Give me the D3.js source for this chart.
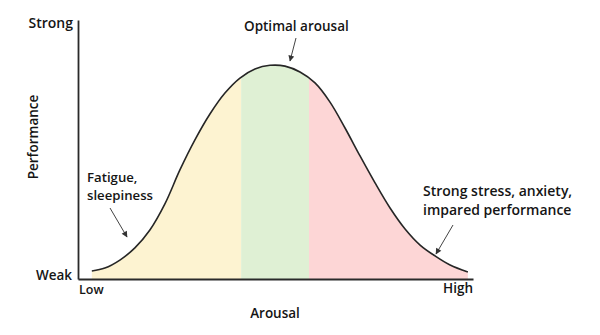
<!DOCTYPE html>
<html>
<head>
<meta charset="utf-8">
<script src="https://cdn.jsdelivr.net/npm/d3@7"></script>
<style>
  html, body { margin: 0; padding: 0; background: #fff; }
  svg text { font-family: "Open Sans", "Noto Sans", sans-serif; fill: #151515; font-weight: 600; }
</style>
</head>
<body>
<svg id="chart" width="600" height="335"></svg>
<script>
// Yerkes–Dodson curve: performance as a function of arousal
const arousal     = [3.5, 6.8, 10.6, 14.4, 18.2, 22.0, 25.8, 29.6, 33.4, 37.2, 41.0, 44.8, 48.6, 52.4, 56.2, 60.0, 63.8, 67.6, 71.4, 75.2, 79.0, 82.8, 86.6, 90.4, 94.2, 98.7];
const performance = [3.1, 4.2, 7.3, 12.0, 18.9, 29.0, 42.1, 53.7, 63.7, 71.8, 77.6, 81.1, 82.5, 82.2, 79.9, 75.7, 68.3, 58.3, 47.5, 37.1, 27.4, 19.3, 13.1, 8.9, 5.4, 2.7];

// Zone boundaries along the arousal axis
const zoneStarts = [0, 41.3, 58.5];
const zoneEnds   = [41.3, 58.5, 100];
const zoneColors = ["#fdf3d1", "#dff0d4", "#fdd6d6"];

const xTickLabels = ["Low", "High"];
const yTickLabels = ["Weak", "Strong"];

const svg = d3.select("#chart");
const x = d3.scaleLinear().domain([0, 100]).range([78, 473]);
const y = d3.scaleLinear().domain([0, 100]).range([279, 20]);

const points = arousal.map((a, i) => ({ a, p: performance[i] }));

const area = d3.area()
  .x(d => x(d.a))
  .y0(y(0))
  .y1(d => y(d.p))
  .curve(d3.curveCatmullRom.alpha(0.5));

const line = d3.line()
  .x(d => x(d.a))
  .y(d => y(d.p))
  .curve(d3.curveCatmullRom.alpha(0.5));

const defs = svg.append("defs");

// Coloured zones under the curve
zoneStarts.forEach((s, i) => {
  defs.append("clipPath").attr("id", "zone" + i)
    .append("rect")
    .attr("x", x(s)).attr("y", 0)
    .attr("width", x(zoneEnds[i]) - x(s)).attr("height", 335);
  svg.append("path")
    .datum(points)
    .attr("d", area)
    .attr("fill", zoneColors[i])
    .attr("clip-path", `url(#zone${i})`);
});

// Curve outline
svg.append("path")
  .datum(points)
  .attr("d", line)
  .attr("fill", "none")
  .attr("stroke", "#262626")
  .attr("stroke-width", 1.6);

// Axes
const xAxis = d3.axisBottom(x).tickValues([]).tickSizeOuter(0);
const yAxis = d3.axisLeft(y).tickValues([]).tickSizeOuter(0);
svg.append("g").attr("transform", `translate(0,${y(0)})`).call(xAxis)
  .select(".domain").attr("stroke", "#2a2a2a").attr("stroke-width", 1.8);
svg.append("g").attr("transform", `translate(${x(0)},0)`).call(yAxis)
  .select(".domain").attr("stroke", "#2a2a2a").attr("stroke-width", 1.8);

// Axis end labels
svg.append("text").attr("x", x(0) + 1).attr("y", 294).attr("font-size", 12.5).text(xTickLabels[0]);
svg.append("text").attr("x", x(100)).attr("y", 293).attr("text-anchor", "end").attr("font-size", 13.5).text(xTickLabels[1]);
svg.append("text").attr("x", x(0) - 6).attr("y", y(0) + 1).attr("text-anchor", "end").attr("font-size", 13.5).text(yTickLabels[0]);
svg.append("text").attr("x", x(0) - 5).attr("y", y(100) + 8).attr("text-anchor", "end").attr("font-size", 14).text(yTickLabels[1]);

// Axis titles
svg.append("text").attr("x", 275).attr("y", 318).attr("text-anchor", "middle").attr("font-size", 13.5).text("Arousal");
svg.append("text")
  .attr("transform", "translate(38,137) rotate(-90)")
  .attr("text-anchor", "middle").attr("font-size", 13.5).text("Performance");

// Arrowhead marker for annotations
defs.append("marker").attr("id", "arrow")
  .attr("viewBox", "0 0 10 10").attr("refX", 9).attr("refY", 5)
  .attr("markerWidth", 8).attr("markerHeight", 6)
  .attr("markerUnits", "userSpaceOnUse")
  .attr("orient", "auto")
  .append("path").attr("d", "M0,0 L10,5 L0,10 z").attr("fill", "#333");

function arrow(x1, y1, x2, y2) {
  svg.append("line")
    .attr("x1", x1).attr("y1", y1).attr("x2", x2).attr("y2", y2)
    .attr("stroke", "#444").attr("stroke-width", 1)
    .attr("marker-end", "url(#arrow)");
}

// Annotations
svg.append("text").attr("x", 244).attr("y", 31).attr("font-size", 13.5).text("Optimal arousal");
arrow(296, 38, 290, 61);

const fatigue = svg.append("text").attr("font-size", 13.2);
fatigue.append("tspan").attr("x", 87).attr("y", 182).text("Fatigue,");
fatigue.append("tspan").attr("x", 87).attr("y", 200).text("sleepiness");
arrow(110, 208, 127, 237);

const stress = svg.append("text").attr("font-size", 14);
stress.append("tspan").attr("x", 423).attr("y", 196).text("Strong stress, anxiety,");
stress.append("tspan").attr("x", 423).attr("y", 215).text("impared performance");
arrow(453, 225, 436, 254);
</script>
</body>
</html>
